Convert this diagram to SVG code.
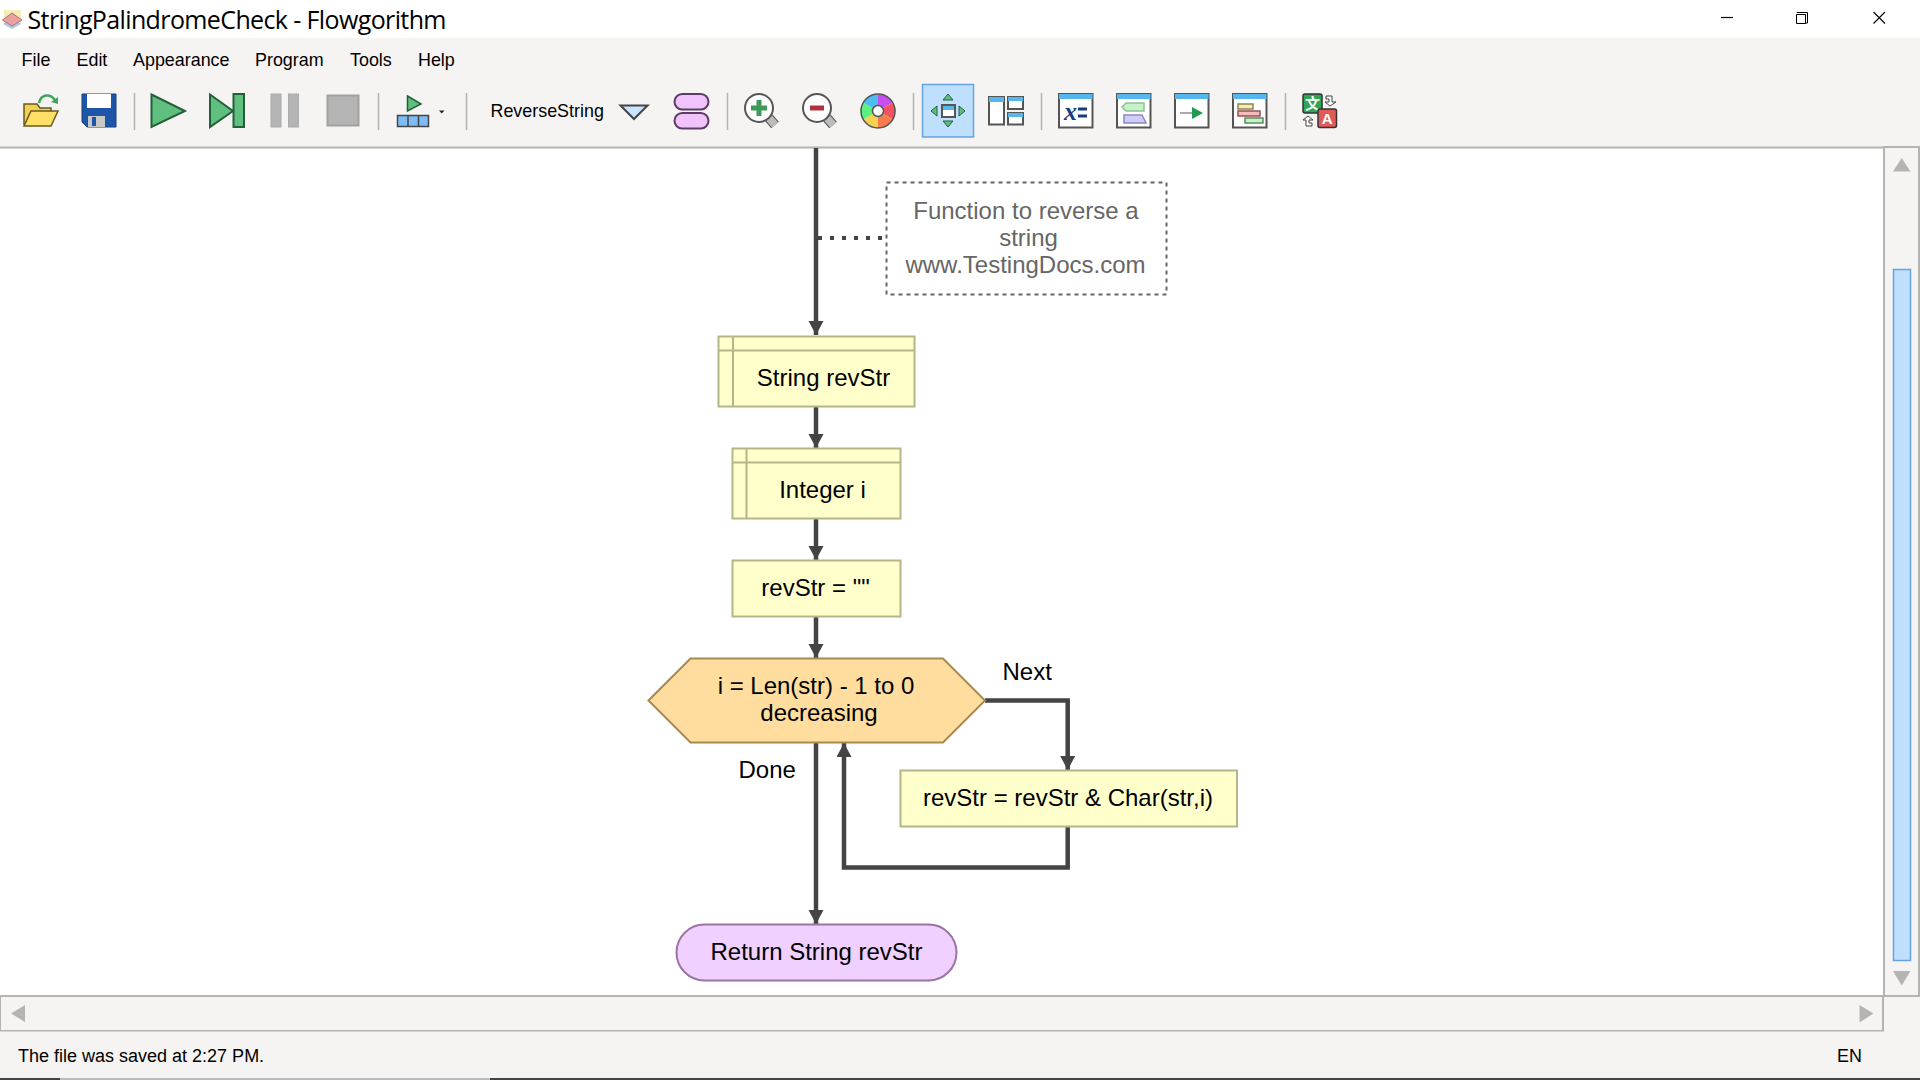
<svg xmlns="http://www.w3.org/2000/svg" width="1920" height="1080" viewBox="0 0 1920 1080">
<style>
text{font-family:"Liberation Sans",Arial,sans-serif;fill:#000}
.ui{font-size:17.9px}
.n{font-size:24px;text-anchor:middle}
.l{font-size:24px}
.note{font-size:24px;text-anchor:middle;fill:#666}
.c{fill:none;stroke:#444;stroke-width:4.5}
.proc{fill:#ffc;stroke:#b5b58a;stroke-width:2}
.sep{stroke:#b4b4b4;stroke-width:1.5}
.gray{fill:#b4b4b4}
.frame{fill:#f5f4f2;stroke:#b4b4b0;stroke-width:2}
.win{fill:#fff;stroke:#555;stroke-width:2}
.bar{fill:#55b7ee}
</style>
<defs>
<marker id="arrow" markerUnits="userSpaceOnUse" markerWidth="16" markerHeight="16" refX="14" refY="7.500" orient="auto"><path d="M0 0L14 7.500L0 15Z" fill="#444"/></marker>
</defs>
<rect width="1920" height="1080" fill="#fff"/>
<g id="titlebar">
<path d="M4 10H21V24H4Z" fill="#f3e7a5" opacity=".8"/>
<path d="M3 24L12 18L21 24L12 29Z" fill="#a9c9ea"/>
<path d="M2.500 20L12 13L22 20L12 26Z" fill="#eda0a0" stroke="#a87878"/>
<text x="27.500" y="29" font-size="25" textLength="419" style="font-family:'Open Sans','Noto Sans',sans-serif">StringPalindromeCheck - Flowgorithm</text>
<path d="M1721 17.500H1733" stroke="#000" stroke-width="1.200"/>
<path d="M1797 13V12.500H1807.500V23H1805M1796.500 14.500H1805.500V23.500H1796.500Z" fill="none" stroke="#000" stroke-width="1"/>
<path d="M1873.500 12L1885 23.500M1885 12L1873.500 23.500" stroke="#000" stroke-width="1.100"/>
</g>
<rect id="toolbar-bg" y="38" width="1920" height="109" fill="#f5f4f2"/>
<path d="M0 147.500H1920" stroke="#b4b4b0" stroke-width="2"/>
<g id="menu">
<text class="ui" x="21.500" y="66">File</text>
<text class="ui" x="76.500" y="66">Edit</text>
<text class="ui" x="133" y="66">Appearance</text>
<text class="ui" x="255" y="66">Program</text>
<text class="ui" x="350" y="66">Tools</text>
<text class="ui" x="418" y="66">Help</text>
</g>
<g id="toolbar">
<path d="M24 125V104H37L40 108H51V115" fill="#f3cf52" stroke="#665a22" stroke-width="1.500"/>
<path d="M24 126L31 111H58L51 126Z" fill="#ffe066" stroke="#665a22" stroke-width="1.500"/>
<path d="M39 103C41 94 50 93 55 100" fill="none" stroke="#3fa45f" stroke-width="2.500"/><path d="M51 102L58 97L58 104Z" fill="#3fa45f"/>
<path d="M82 94H116V127H87L82 122Z" fill="#1d56a8" stroke="#1c3f77"/>
<rect x="87" y="94" width="24" height="14" fill="#fff"/>
<rect x="88" y="116" width="17" height="11" fill="#c8c8c8"/><rect x="92" y="117" width="4" height="9" fill="#1d56a8"/>
<path d="M151.500 94.500L185 111L151.500 127Z" fill="#60bf7f" stroke="#22603a" stroke-width="2"/>
<path d="M210 94.500L233 111L210 127Z" fill="#60bf7f" stroke="#22603a" stroke-width="2"/>
<rect x="233.500" y="94" width="10.500" height="33" fill="#60bf7f" stroke="#22603a" stroke-width="2"/>
<rect x="271" y="94" width="10" height="33" fill="#b4b4b4" stroke="#aaa"/><rect x="288.500" y="94" width="10" height="33" fill="#b4b4b4" stroke="#aaa"/>
<rect x="327.500" y="95.500" width="31" height="30" fill="#b4b4b4" stroke="#a0a0a0" stroke-width="2"/>
<path d="M134.500 93V130M378.500 93V130M466.500 93V130M727.500 93V130M913.500 93V130M1041.500 93V130M1285.500 93V130" class="sep"/>
<path d="M407.500 96L421 104L407.500 111Z" fill="#60bf7f" stroke="#22603a" stroke-width="1.500"/>
<rect x="397.500" y="115.500" width="31" height="11" fill="#7dbcf7" stroke="#444" stroke-width="1.500"/><path d="M408 115V127M418.500 115V127" stroke="#444" stroke-width="1.500"/>
<path d="M439 110.500H444.500L441.700 113.500Z" fill="#222"/>
<text class="ui" x="490.500" y="116.500">ReverseString</text>
<path d="M620.500 105.500H647.500L634 119Z" fill="#c8e4ff" stroke="#444" stroke-width="2"/>
<rect x="674.500" y="94" width="34" height="15.500" rx="7.700" fill="#f0c4fa" stroke="#5c3c66" stroke-width="2"/>
<rect x="674.500" y="113" width="34" height="15.500" rx="7.700" fill="#f0c4fa" stroke="#5c3c66" stroke-width="2"/>
<path d="M769 118L775 125" stroke="#555" stroke-width="10"/><path d="M769 118L775 125" stroke="#bbb" stroke-width="8"/>
<circle cx="759" cy="108" r="14" fill="#fff" stroke="#555" stroke-width="2"/>
<path d="M759 100V116M751 108H767" stroke="#409a5a" stroke-width="5"/>
<path d="M827 118L833 125" stroke="#555" stroke-width="10"/><path d="M827 118L833 125" stroke="#bbb" stroke-width="8"/>
<circle cx="817" cy="108" r="14" fill="#fff" stroke="#555" stroke-width="2"/>
<path d="M810 108H824" stroke="#b2323c" stroke-width="5"/>
<g id="wheel">
<path d="M878 111L878 94A17 17 0 0 1 893 102.500Z" fill="#c94ff0"/>
<path d="M878 111L893 102.500A17 17 0 0 1 893 119.500Z" fill="#f5545e"/>
<path d="M878 111L893 119.500A17 17 0 0 1 878 128Z" fill="#f77c4d"/>
<path d="M878 111L878 128A17 17 0 0 1 863 119.500Z" fill="#f5d250"/>
<path d="M878 111L863 119.500A17 17 0 0 1 863 102.500Z" fill="#5cf07f"/>
<path d="M878 111L863 102.500A17 17 0 0 1 878 94Z" fill="#4cbcf2"/>
<circle cx="878" cy="111" r="17" fill="none" stroke="#555" stroke-width="1.500"/>
<circle cx="878" cy="111" r="5.500" fill="#fff" stroke="#555" stroke-width="1.500"/>
</g>
<rect x="922.500" y="84.500" width="51" height="52.500" fill="#bfdfff" stroke="#66a3e0" stroke-width="1.500"/>
<rect x="942" y="105" width="13" height="12" fill="#fff" stroke="#555" stroke-width="2"/><rect x="943" y="106" width="11" height="4" fill="#55b7ee"/>
<path d="M948 94L953 100H943Z" fill="#60bf7f" stroke="#22603a"/><path d="M948 127L953 121H943Z" fill="#60bf7f" stroke="#22603a"/>
<path d="M931 111L937 106V116Z" fill="#60bf7f" stroke="#22603a"/><path d="M965 111L959 106V116Z" fill="#60bf7f" stroke="#22603a"/>
<rect x="989" y="97" width="15" height="27.500" class="win"/><rect x="989" y="97" width="15" height="5" class="bar"/>
<rect x="1008" y="97" width="15" height="12" class="win"/><rect x="1008" y="97" width="15" height="4" class="bar"/>
<rect x="1008" y="113" width="15" height="11.500" class="win"/><rect x="1008" y="113" width="15" height="4" class="bar"/>
<rect x="1059" y="94" width="33.500" height="33.500" class="win"/><rect x="1059" y="94" width="33.500" height="5" class="bar"/>
<text x="1064" y="120" font-size="26" font-weight="bold" font-style="italic" style="font-family:'Liberation Serif',serif;fill:#1b3d80">x</text><path d="M1078 109H1087M1078 116H1087" stroke="#1b3d80" stroke-width="3"/>
<rect x="1117" y="94" width="33.500" height="33.500" class="win"/><rect x="1117" y="94" width="33.500" height="5" class="bar"/>
<path d="M1122 107L1126 103H1144V111H1126Z" fill="#c6f2c8" stroke="#8fc098" stroke-width="1.500"/><path d="M1124 115H1142L1146 123H1124Z" fill="#cfcdf7" stroke="#8a88c0" stroke-width="1.500"/>
<rect x="1175" y="94" width="33.500" height="33.500" class="win"/><rect x="1175" y="94" width="33.500" height="5" class="bar"/>
<path d="M1180 113H1194" stroke="#aaa" stroke-width="2"/><path d="M1192 107L1203 113L1192 119Z" fill="#1f9c4f"/>
<rect x="1233" y="94" width="33.500" height="33.500" class="win"/><rect x="1233" y="94" width="33.500" height="5" class="bar"/>
<rect x="1238" y="104" width="15" height="5" fill="#f3eeb0" stroke="#8a8550" stroke-width="1.500"/><rect x="1238" y="111" width="22" height="5" fill="#f5bcbc" stroke="#964f4f" stroke-width="1.500"/><rect x="1245" y="118" width="18" height="5" fill="#c6f2c8" stroke="#5c8a64" stroke-width="1.500"/>
<rect x="1303" y="94" width="19" height="19" rx="2" fill="#2fa653" stroke="#333" stroke-width="1.500"/>
<text x="1312.500" y="109" font-size="15" text-anchor="middle" font-weight="bold" style="font-family:'Noto Sans CJK SC',sans-serif;fill:#fff">文</text>
<rect x="1318" y="109" width="18.500" height="18.500" rx="2" fill="#e05a5a" stroke="#333" stroke-width="1.500"/>
<text x="1327.200" y="124" font-size="15" text-anchor="middle" font-weight="bold" style="fill:#fff">A</text>
<path d="M1326 96H1332V102H1336L1330 106L1325 102H1329V99H1326Z" fill="#fff" stroke="#444"/>
<path d="M1312 126H1306V120H1303L1308 116L1313 120H1309V123H1312Z" fill="#fff" stroke="#444"/>
</g>
<g id="connectors">
<path class="c" d="M816 148V335" marker-end="url(#arrow)"/>
<path d="M818 238H882" fill="none" stroke="#444" stroke-width="4" stroke-dasharray="4 8"/>
<path class="c" d="M816 407V448" marker-end="url(#arrow)"/>
<path class="c" d="M816 519V560" marker-end="url(#arrow)"/>
<path class="c" d="M816 617V658" marker-end="url(#arrow)"/>
<path class="c" d="M985 700.500H1067.700V770" marker-end="url(#arrow)"/>
<path class="c" d="M1067.700 827V867.500H844V743" marker-end="url(#arrow)"/>
<path class="c" d="M816 743V924" marker-end="url(#arrow)"/>
</g>
<g id="note">
<rect x="886.500" y="182.500" width="280" height="112" fill="#fff" stroke="#666" stroke-width="2" stroke-dasharray="4 4"/>
<text class="note" x="1026" y="219">Function to reverse a</text>
<text class="note" x="1028.500" y="246">string</text>
<text class="note" x="1025.500" y="273">www.TestingDocs.com</text>
</g>
<g id="decl-revstr">
<rect class="proc" x="718.500" y="336.500" width="196" height="70"/>
<path class="proc" d="M733 336.500V406.500M718.500 350.500H914.500"/>
<text class="n" x="823.500" y="386">String revStr</text>
</g>
<g id="decl-i">
<rect class="proc" x="732.500" y="448.500" width="168" height="70"/>
<path class="proc" d="M746.500 448.500V518.500M732.500 462.500H900.500"/>
<text class="n" x="822.500" y="498">Integer i</text>
</g>
<g id="assign-revstr">
<rect class="proc" x="732.500" y="560.500" width="168" height="56"/>
<text class="n" x="815.500" y="596">revStr = ""</text>
</g>
<g id="for-loop">
<path d="M648.500 700.500L690.500 658.500H943L985 700.500L943 742.500H690.500Z" fill="#ffdd9e" stroke="#a88a4e" stroke-width="2"/>
<text class="n" x="816" y="694">i = Len(str) - 1 to 0</text>
<text class="n" x="819" y="721">decreasing</text>
</g>
<text class="l" x="1002.500" y="680">Next</text>
<text class="l" x="738.500" y="777.500">Done</text>
<g id="assign-loop">
<rect class="proc" x="900.500" y="770.500" width="336.500" height="56"/>
<text class="n" x="1068" y="806">revStr = revStr &amp; Char(str,i)</text>
</g>
<g id="return">
<rect x="676.500" y="924.500" width="280" height="56" rx="28" fill="#f0d0ff" stroke="#9a74a4" stroke-width="2"/>
<text class="n" x="816.500" y="960">Return String revStr</text>
</g>
<g id="scrollbars">
<rect class="frame" x="1884" y="147" width="35" height="849"/>
<path class="gray" d="M1893 171.500H1910.500L1901.700 158Z"/>
<rect x="1893.500" y="269.500" width="17" height="691" fill="#bfdfff" stroke="#66a3e0" stroke-width="1.500"/>
<path class="gray" d="M1893 971H1910.500L1901.700 985.500Z"/>
<rect class="frame" x="0" y="996" width="1883" height="35"/>
<path class="gray" d="M25 1005V1022L11 1013.500Z"/>
<path class="gray" d="M1859.500 1005V1022.500L1873.500 1013.500Z"/>
</g>
<g id="statusbar">
<rect y="1031.500" width="1884" height="47" fill="#f5f4f2"/>
<rect x="1884" y="997" width="36" height="81.500" fill="#f5f4f2"/>
<text class="ui" x="18" y="1061.500" style="font-size:18px">The file was saved at 2:27 PM.</text>
<text class="ui" x="1837" y="1062">EN</text>
<rect y="1078" width="1920" height="2" fill="#444"/>
<rect x="60" y="1078" width="430" height="2" fill="#bbb"/>
</g>
</svg>
